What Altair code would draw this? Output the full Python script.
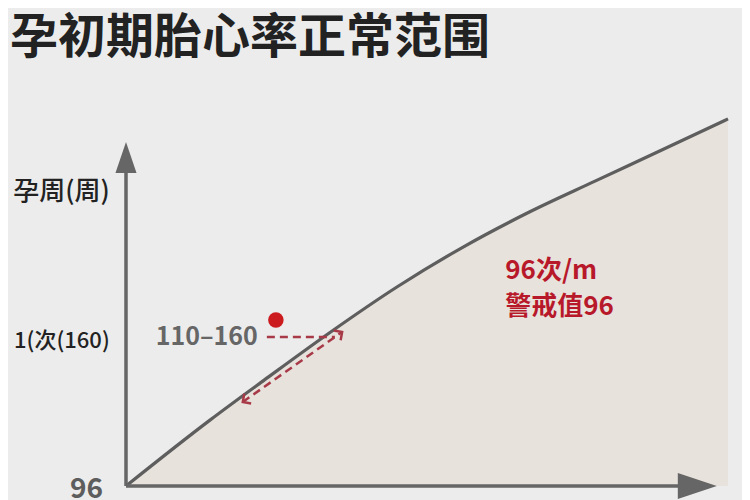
import altair as alt
import pandas as pd

FONT = "Noto Sans CJK SC"

# curve (weeks-ish x, bpm y)
curve_x = [0, 14, 23, 34, 45, 56, 67, 78, 89, 100]
curve_y = [96, 125.1, 142.7, 163.8, 183.6, 201.2, 216.6, 230.3, 243.9, 257.6]

# axes lines and arrows
yaxis_line = {"x": [0], "y": [96], "y2": [233.8]}
xaxis_line = {"x": [0], "x2": [91.7], "y": [96]}
yarrow = {"x": [0], "y": [240.6]}
xarrow = {"x": [94.9], "y": [96]}

# y labels
ylab_text = ["孕周(周)", "1(次(160)"]
ylab_size = [26, 22]
ylab_x = [-2.7, -2.7]
ylab_y = [225.3, 160]
ybottom_text = ["96"]
ybottom_x = [-3.8]
ybottom_y = [90.7]

# annotation
range_text = ["110–160"]
range_x = [21.9]
range_y = [161.6]
dot_x = [24.9]
dot_y = [169.1]
hdash = {"x": [23.4], "x2": [34.7], "y": [161.6]}
ddash = {"x": [19.4], "x2": [35.9], "y": [133.0], "y2": [163.8]}
chev_x = [35.9, 19.4]
chev_y = [163.8, 133.0]
chev_angle = [325, 145]

red_text = ["96次/m", "警戒值96"]
red_x = [63, 63]
red_y = [190.6, 174.6]

xs = alt.Scale(domain=[0, 100], nice=False, zero=False)
ys = alt.Scale(domain=[96, 258], nice=False, zero=False)

curve = pd.DataFrame({"x": curve_x, "y": curve_y})
base = alt.Chart(curve)

area = base.mark_area(color="#e8e2dc", interpolate="monotone").encode(
    x=alt.X("x:Q", scale=xs, axis=None),
    y=alt.Y("y:Q", scale=ys, axis=None),
    y2=alt.datum(96),
)
line = base.mark_line(color="#5e5e5e", strokeWidth=3.2, interpolate="monotone").encode(
    x=alt.X("x:Q", scale=xs), y=alt.Y("y:Q", scale=ys)
)

ax_col = "#666666"
yline = alt.Chart(pd.DataFrame(yaxis_line)).mark_rule(color=ax_col, strokeWidth=3.5).encode(
    x=alt.X("x:Q", scale=xs), y=alt.Y("y:Q", scale=ys), y2="y2:Q"
)
xline = alt.Chart(pd.DataFrame(xaxis_line)).mark_rule(color=ax_col, strokeWidth=3.5).encode(
    x=alt.X("x:Q", scale=xs), x2="x2:Q", y=alt.Y("y:Q", scale=ys)
)
yarr = alt.Chart(pd.DataFrame(yarrow)).mark_point(
    shape="M0,-1L0.68,1L-0.68,1Z", size=961, filled=True, color=ax_col, opacity=1
).encode(x=alt.X("x:Q", scale=xs), y=alt.Y("y:Q", scale=ys))
xarr = alt.Chart(pd.DataFrame(xarrow)).mark_point(
    shape="M1,0L-1,-0.67L-1,0.67Z", size=1521, filled=True, color=ax_col, opacity=1
).encode(x=alt.X("x:Q", scale=xs), y=alt.Y("y:Q", scale=ys))

ylabels = alt.Chart(pd.DataFrame({"t": ylab_text, "x": ylab_x, "y": ylab_y, "s": ylab_size})).mark_text(
    font=FONT, color="#222222", align="right", baseline="middle", fontWeight=500
).encode(x=alt.X("x:Q", scale=xs), y=alt.Y("y:Q", scale=ys), text="t:N",
         size=alt.Size("s:Q", scale=None, legend=None))
ybottom = alt.Chart(pd.DataFrame({"t": ybottom_text, "x": ybottom_x, "y": ybottom_y})).mark_text(
    font=FONT, fontSize=28, color="#5d5d5d", align="right", baseline="alphabetic", fontWeight="bold"
).encode(x=alt.X("x:Q", scale=xs), y=alt.Y("y:Q", scale=ys), text="t:N")

red = "#a83a48"
rng = alt.Chart(pd.DataFrame({"t": range_text, "x": range_x, "y": range_y})).mark_text(
    font=FONT, fontSize=25, color="#666666", align="right", baseline="middle", fontWeight="bold"
).encode(x=alt.X("x:Q", scale=xs), y=alt.Y("y:Q", scale=ys), text="t:N")
dot = alt.Chart(pd.DataFrame({"x": dot_x, "y": dot_y})).mark_circle(
    size=240, color="#cc1b1f", opacity=1
).encode(x=alt.X("x:Q", scale=xs), y=alt.Y("y:Q", scale=ys))
hd = alt.Chart(pd.DataFrame(hdash)).mark_rule(color=red, strokeWidth=2.5, strokeDash=[8, 5]).encode(
    x=alt.X("x:Q", scale=xs), x2="x2:Q", y=alt.Y("y:Q", scale=ys)
)
dd = alt.Chart(pd.DataFrame(ddash)).mark_rule(color=red, strokeWidth=2.5, strokeDash=[8, 5]).encode(
    x=alt.X("x:Q", scale=xs), x2="x2:Q", y=alt.Y("y:Q", scale=ys), y2="y2:Q"
)
chev = alt.Chart(pd.DataFrame({"x": chev_x, "y": chev_y, "a": chev_angle})).mark_point(
    shape="M-1,-1L0,0L-1,1", size=144, filled=False, color=red, strokeWidth=2.5, opacity=1
).encode(x=alt.X("x:Q", scale=xs), y=alt.Y("y:Q", scale=ys),
         angle=alt.Angle("a:Q", scale=None))

redt = alt.Chart(pd.DataFrame({"t": red_text, "x": red_x, "y": red_y})).mark_text(
    font=FONT, fontSize=26, color="#b8192a", align="left", baseline="middle", fontWeight="bold"
).encode(x=alt.X("x:Q", scale=xs), y=alt.Y("y:Q", scale=ys), text="t:N")

chart = alt.layer(
    area, line, yline, xline, yarr, xarr, ylabels, ybottom, hd, dd, chev, dot, rng, redt
).properties(
    width=602,
    height=368,
    padding={"left": 118, "top": 110, "right": 14, "bottom": 14},
    autosize=alt.AutoSizeParams(type="none"),
    background="#ececec",
    title=alt.Title(
        "孕初期胎心率正常范围",
        anchor="start",
        frame="group",
        dx=-116,
        offset=50,
        font=FONT,
        fontSize=48,
        fontWeight="bold",
        color="#222222",
    ),
).configure_view(stroke=None)

chart.save("out.html", embed_options={"renderer": "svg", "actions": False})
